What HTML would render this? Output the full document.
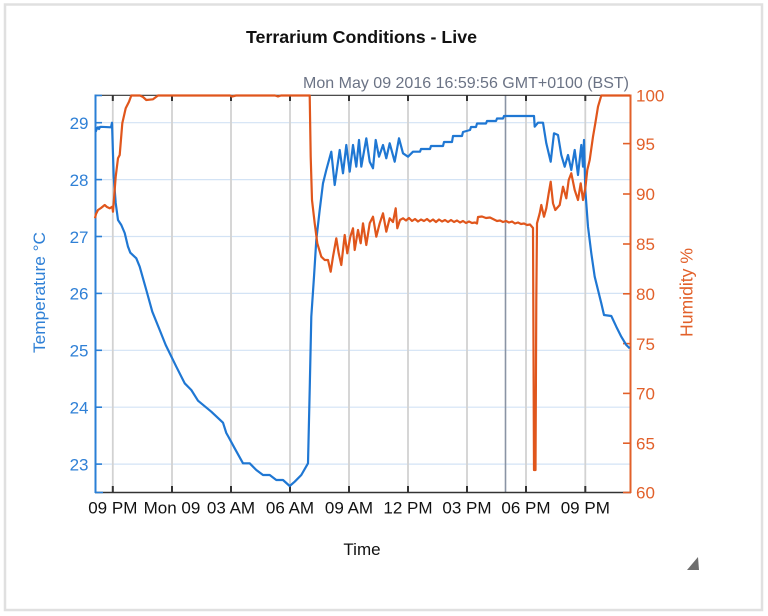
<!DOCTYPE html>
<html><head><meta charset="utf-8"><style>
html,body{margin:0;padding:0;background:#fff;}
svg{display:block;}
text{font-family:"Liberation Sans",Arial,sans-serif;}
</style></head><body>
<svg width="768" height="616" viewBox="0 0 768 616" xmlns="http://www.w3.org/2000/svg">
<rect x="0" y="0" width="768" height="616" fill="#fff"/>
<rect x="5" y="4.5" width="757" height="605.5" fill="none" stroke="#e0e0e0" stroke-width="2.5"/>

<text x="361.5" y="43" font-size="17.5" font-weight="bold" text-anchor="middle" fill="#111" textLength="231" lengthAdjust="spacingAndGlyphs">Terrarium Conditions - Live</text>
<text x="629" y="88" font-size="16" text-anchor="end" fill="#6b7385">Mon May 09 2016 16:59:56 GMT+0100 (BST)</text>

<!-- horizontal grid (temperature) -->
<g stroke="#d3e3f5" stroke-width="1.2">
<line x1="95" x2="630" y1="122.7" y2="122.7"/>
<line x1="95" x2="630" y1="179.6" y2="179.6"/>
<line x1="95" x2="630" y1="236.5" y2="236.5"/>
<line x1="95" x2="630" y1="293.4" y2="293.4"/>
<line x1="95" x2="630" y1="350.3" y2="350.3"/>
<line x1="95" x2="630" y1="407.2" y2="407.2"/>
<line x1="95" x2="630" y1="464.1" y2="464.1"/>
</g>
<!-- vertical grid -->
<g stroke="#d2d2d2" stroke-width="1.8">
<line x1="112.8" x2="112.8" y1="95" y2="492"/>
<line x1="172" x2="172" y1="95" y2="492"/>
<line x1="231" x2="231" y1="95" y2="492"/>
<line x1="290" x2="290" y1="95" y2="492"/>
<line x1="349" x2="349" y1="95" y2="492"/>
<line x1="408" x2="408" y1="95" y2="492"/>
<line x1="467" x2="467" y1="95" y2="492"/>
<line x1="526" x2="526" y1="95" y2="492"/>
<line x1="585.3" x2="585.3" y1="95" y2="492"/>
</g>
<!-- hover line -->
<line x1="505.5" x2="505.5" y1="95" y2="492" stroke="#8a94a4" stroke-width="1.6"/>

<!-- axes -->
<line x1="95" x2="631" y1="95.3" y2="95.3" stroke="#333" stroke-width="1.2"/>
<line x1="95" x2="631" y1="492.5" y2="492.5" stroke="#333" stroke-width="1.5"/>
<g stroke="#333" stroke-width="2">
<line x1="112.8" x2="112.8" y1="95" y2="101"/><line x1="172" x2="172" y1="95" y2="101"/><line x1="231" x2="231" y1="95" y2="101"/><line x1="290" x2="290" y1="95" y2="101"/><line x1="349" x2="349" y1="95" y2="101"/><line x1="408" x2="408" y1="95" y2="101"/><line x1="467" x2="467" y1="95" y2="101"/><line x1="526" x2="526" y1="95" y2="101"/><line x1="585.3" x2="585.3" y1="95" y2="101"/>
<line x1="112.8" x2="112.8" y1="486" y2="492"/><line x1="172" x2="172" y1="486" y2="492"/><line x1="231" x2="231" y1="486" y2="492"/><line x1="290" x2="290" y1="486" y2="492"/><line x1="349" x2="349" y1="486" y2="492"/><line x1="408" x2="408" y1="486" y2="492"/><line x1="467" x2="467" y1="486" y2="492"/><line x1="526" x2="526" y1="486" y2="492"/><line x1="585.3" x2="585.3" y1="486" y2="492"/>
</g>
<line x1="95.5" x2="95.5" y1="94.5" y2="493" stroke="#2a7fd6" stroke-width="2"/>
<g stroke="#2a7fd6" stroke-width="1.6">
<line x1="95" x2="102" y1="95.5" y2="95.5"/>
<line x1="95" x2="102" y1="122.7" y2="122.7"/><line x1="95" x2="102" y1="179.6" y2="179.6"/><line x1="95" x2="102" y1="236.5" y2="236.5"/><line x1="95" x2="102" y1="293.4" y2="293.4"/><line x1="95" x2="102" y1="350.3" y2="350.3"/><line x1="95" x2="102" y1="407.2" y2="407.2"/><line x1="95" x2="102" y1="464.1" y2="464.1"/>
<line x1="95" x2="103" y1="492.5" y2="492.5"/>
</g>
<line x1="630.5" x2="630.5" y1="94.5" y2="493" stroke="#e2602a" stroke-width="2"/>
<g stroke="#e2602a" stroke-width="1.6">
<line x1="623" x2="631" y1="95.5" y2="95.5"/><line x1="623" x2="631" y1="143.6" y2="143.6"/><line x1="623" x2="631" y1="194" y2="194"/><line x1="623" x2="631" y1="244" y2="244"/><line x1="623" x2="631" y1="293.8" y2="293.8"/><line x1="623" x2="631" y1="343.6" y2="343.6"/><line x1="623" x2="631" y1="393.4" y2="393.4"/><line x1="623" x2="631" y1="443.2" y2="443.2"/><line x1="623" x2="631" y1="492.5" y2="492.5"/>
</g>

<!-- temperature series -->
<polyline fill="none" stroke="#1f77d3" stroke-width="2.2" stroke-linejoin="round" points="95.7,131.7 97,128 98,127.3 99,129 100,127 101,126.8 111,127.3 112,122.7 113.7,176.7 115.7,203 118,220 121.3,225 124.7,233 128,246.7 130.3,252.7 136.3,258.3 139.7,266.7 146.3,290 152.3,311.7 159.7,330 165.7,345 176.3,366.7 184.7,383.3 191.3,390 198,400.7 211.3,411.7 223,422.7 226.3,433 228,436 234.7,448.3 243,463.3 249.7,463.3 256.3,470 263,475 269.7,475 276.3,480 283,480 289.7,486 294.7,481.7 301.3,475 308,463.3 309.7,390 311.3,316.7 314,276.7 316.3,240 319.7,210 323,183.3 326.3,170 331.3,151.7 334.7,185 339.7,150 343,173.3 346.3,145 349.7,171.7 353,145 356.3,166.7 359,140 361.3,166.7 366.3,138.3 369.7,161.7 373,168.3 375.7,140 379,156.7 383,145 386.3,158.3 389.7,143.3 394.7,161.7 399,138.3 403,153.3 408,156.7 413,151.7 420,151.7 421,149 430,149 431,146 443,146 444,142 452,142 453,136 462,136 463,132 470,130 471,127 476,127 477,123.5 486,123.5 487,121 496,121 497,118.5 503,118.5 504,116 534,116 534.7,126.7 538,122.7 543,122.7 546.3,143.3 550.7,161.7 554,133.3 558,135 561.3,155 564.7,166.7 568,155 571.3,170 574.7,150 578,175 581.3,145 583,166.7 584,140 585.3,190 588,226.7 591.3,253.3 594.7,276.7 598,290 601.3,303.3 604,315 611.3,316 616.3,326.7 621.3,336.7 626.3,345 629.7,348.3"/>

<!-- humidity series -->
<polyline fill="none" stroke="#e0561c" stroke-width="2.2" stroke-linejoin="round" points="95,218.3 96,214 98,210 101,208 104.7,205 107,207 109.7,208.3 112.3,206.7 113,211.7 115.7,176.7 118,158.3 119.7,155 122.3,123.3 125.7,108.3 129,101.7 131.3,95.5 140,95.5 143,97 146.3,100 153,99.3 158,95.5 230,95.5 232,96.5 236,95.5 275,95.5 278,96.5 281,95.5 309.7,95.5 310.7,156.7 312,200 314.7,223.3 317.3,243.3 321.3,256.7 324.7,260 328,260 330.7,271.7 333,256.7 336.3,238.3 338.7,253.3 341.3,265 344.7,235 347.3,253.3 350.3,236.7 353,228.3 354.7,250 358,230 360.7,243.3 363,223.3 366.3,245 369.7,223.3 373,216.7 376.3,236.7 379.7,223.3 383,213.3 386.3,231.7 389.7,218.3 393,222 395.7,208.3 397.3,228.3 400,220 403,218.3 406,220.5 409,218 412,221 415,219 418,221.5 421,219.5 424,221 427,219 430,221.5 433,219.5 436,222 439,219.5 442,221.5 445,220 448,222 451,220 454,222 457,220.5 460,222.5 463,221 466,223 469,221.5 472,223 475,222.5 477,223.5 478,217 482,216.5 486,218 490,217.5 494,219.5 497,221 500,220.5 503,222 506,221 509,222.5 512,221.5 515,223.5 518,222.5 521,224 524,223.5 527,225 530,224.5 533,228 534,470 535.5,470 536.3,300 537,223.3 539.7,213.3 541.3,205 544,216.7 546.3,208.3 548.7,193.3 550.7,181.7 553,203.3 555.3,210 559.7,205 563,186.7 566.3,198.3 568.7,180 571.3,173.3 574.7,190 578,200 580.7,183.3 583,200 585.3,188.3 587.3,170 589.7,160 593,136.7 595.3,123.3 598,106.7 601.3,95.5 630,95.5"/>

<!-- left tick labels -->
<g font-size="17" fill="#2f80d6" text-anchor="end">
<text x="88.5" y="129">29</text>
<text x="88.5" y="186">28</text>
<text x="88.5" y="242.8">27</text>
<text x="88.5" y="299.7">26</text>
<text x="88.5" y="356.6">25</text>
<text x="88.5" y="413.5">24</text>
<text x="88.5" y="470.4">23</text>
</g>
<!-- right tick labels -->
<g font-size="17" fill="#e2602a" text-anchor="start">
<text x="636" y="101.5">100</text>
<text x="636" y="149.8">95</text>
<text x="636" y="200.2">90</text>
<text x="636" y="250.2">85</text>
<text x="636" y="300">80</text>
<text x="636" y="349.8">75</text>
<text x="636" y="399.6">70</text>
<text x="636" y="449.4">65</text>
<text x="636" y="498.7">60</text>
</g>
<!-- bottom tick labels -->
<g font-size="17" fill="#111" text-anchor="middle">
<text x="112.8" y="513.5">09 PM</text>
<text x="172" y="513.5">Mon 09</text>
<text x="231" y="513.5">03 AM</text>
<text x="290" y="513.5">06 AM</text>
<text x="349" y="513.5">09 AM</text>
<text x="408" y="513.5">12 PM</text>
<text x="467" y="513.5">03 PM</text>
<text x="526" y="513.5">06 PM</text>
<text x="585.3" y="513.5">09 PM</text>
</g>

<text x="362" y="555" font-size="17" text-anchor="middle" fill="#111">Time</text>
<text transform="translate(45,292.5) rotate(-90)" font-size="17" text-anchor="middle" fill="#2f80d6" textLength="121" lengthAdjust="spacingAndGlyphs">Temperature °C</text>
<text transform="translate(692.5,292.5) rotate(-90)" font-size="17.5" text-anchor="middle" fill="#e2602a" textLength="89" lengthAdjust="spacingAndGlyphs">Humidity %</text>

<!-- resize icon -->
<polygon points="687,570 698,557 699,570" fill="#555" opacity="0.85"/>
</svg>
</body></html>
